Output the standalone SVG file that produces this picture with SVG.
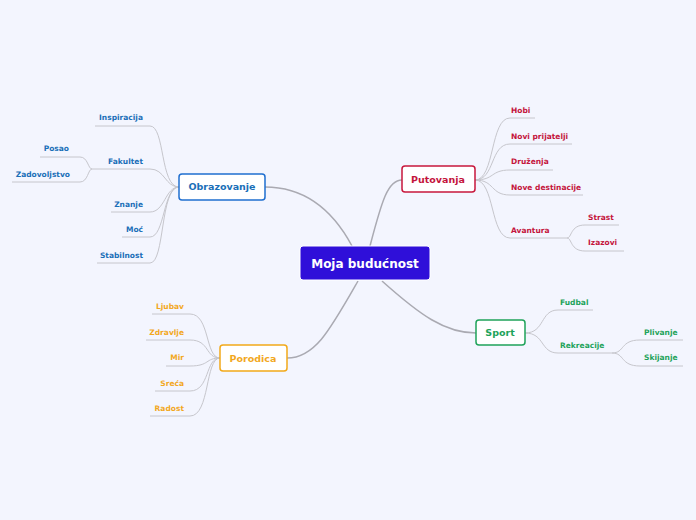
<svg xmlns="http://www.w3.org/2000/svg" width="696" height="520" viewBox="0 0 696 520">
<style>
text{font-family:"DejaVu Sans","Liberation Sans",sans-serif;font-weight:bold}
.m{fill:none;stroke:#aaaab2;stroke-width:1.5}
.s{fill:none;stroke:#c6c6cc;stroke-width:1}
.l{font-size:7.5px}
.b{fill:#1a6fb8}.r{fill:#c4143c}.g{fill:#1ea35a}.o{fill:#f2a81e}
.n{font-size:9.5px;text-anchor:middle}
</style>
<rect width="696" height="520" fill="#f3f5fe"/>
<g id="connectors">
<path class="m" d="M352,246 C330,205 300,187 265,187"/>
<path class="m" d="M370,246 C382,200 388,180 402,180"/>
<path class="m" d="M382,281 C420,315 445,333 476,333"/>
<path class="m" d="M358,281 C330,330 315,358 287,358"/>
<!-- Obrazovanje -->
<path class="s" d="M179,187 C160,187 165,126 150,126 H95"/>
<path class="s" d="M179,187 C165,187 165,169 150,169 H92"/>
<path class="s" d="M92,169 C88,169 88,157 80,157 H40"/>
<path class="s" d="M92,169 C88,169 88,182 80,182 H12"/>
<path class="s" d="M179,187 C165,187 165,212 150,212 H111"/>
<path class="s" d="M179,187 C163,187 165,237 150,237 H122"/>
<path class="s" d="M179,187 C160,187 165,263 150,263 H97"/>
<!-- Putovanja -->
<path class="s" d="M475,180 C495,180 490,118 510,118 H535"/>
<path class="s" d="M475,180 C495,180 490,144 510,144 H572"/>
<path class="s" d="M475,180 C495,180 490,170 510,170 H553"/>
<path class="s" d="M475,180 C495,180 490,195 510,195 H583"/>
<path class="s" d="M475,180 C495,180 490,238 510,238 H567"/>
<path class="s" d="M567,238 C572,238 570,225 585,225 H619"/>
<path class="s" d="M567,238 C572,238 570,251 585,251 H624"/>
<!-- Sport -->
<path class="s" d="M525,333 C545,333 540,310 558,310 H593"/>
<path class="s" d="M525,333 C545,333 540,353 558,353 H612"/>
<path class="s" d="M612,353 C625,353 620,340 640,340 H683"/>
<path class="s" d="M612,353 C625,353 620,366 640,366 H683"/>
<!-- Porodica -->
<path class="s" d="M220,358 C205,358 210,314 190,314 H152"/>
<path class="s" d="M220,358 C205,358 210,340 190,340 H146"/>
<path class="s" d="M220,358 C205,358 210,366 190,366 H166"/>
<path class="s" d="M220,358 C205,358 210,391 190,391 H155"/>
<path class="s" d="M220,358 C205,358 210,416 190,416 H150"/>
</g>
<g id="center"><rect x="300" y="246" width="130" height="34" rx="3" fill="#2f0fd9" stroke="#fff" stroke-width="1"/><text x="365" y="268" fill="#fff" font-size="12" text-anchor="middle">Moja budućnost</text></g>
<g id="obrazovanje"><rect x="179" y="174" width="86" height="26" rx="3" fill="#fff" stroke="#1f6fd0" stroke-width="1.5"/><text class="n b" x="222" y="190">Obrazovanje</text>
<g class="l b" text-anchor="end"><text x="143" y="120">Inspiracija</text><text x="143" y="164">Fakultet</text><text x="69" y="151">Posao</text><text x="70" y="177">Zadovoljstvo</text><text x="143" y="207">Znanje</text><text x="143" y="232">Moć</text><text x="143" y="258">Stabilnost</text></g></g>
<g id="putovanja"><rect x="402" y="166" width="73" height="26" rx="3" fill="#fff" stroke="#c8173c" stroke-width="1.5"/><text class="n r" x="438" y="183">Putovanja</text>
<g class="l r"><text x="511" y="113">Hobi</text><text x="511" y="139">Novi prijatelji</text><text x="511" y="164">Druženja</text><text x="511" y="190">Nove destinacije</text><text x="511" y="233">Avantura</text><text x="588" y="220">Strast</text><text x="588" y="245">Izazovi</text></g></g>
<g id="sport"><rect x="476" y="320" width="49" height="25" rx="3" fill="#fff" stroke="#1fa35a" stroke-width="1.5"/><text class="n g" x="500" y="336">Sport</text>
<g class="l g"><text x="560" y="305">Fudbal</text><text x="560" y="348">Rekreacije</text><text x="644" y="335">Plivanje</text><text x="644" y="360">Skijanje</text></g></g>
<g id="porodica"><rect x="220" y="345" width="67" height="26" rx="3" fill="#fff" stroke="#f2a91a" stroke-width="1.5"/><text class="n o" x="253" y="362">Porodica</text>
<g class="l o" text-anchor="end"><text x="184" y="309">Ljubav</text><text x="184" y="335">Zdravlje</text><text x="184" y="360">Mir</text><text x="184" y="386">Sreća</text><text x="184" y="411">Radost</text></g></g>
</svg>
